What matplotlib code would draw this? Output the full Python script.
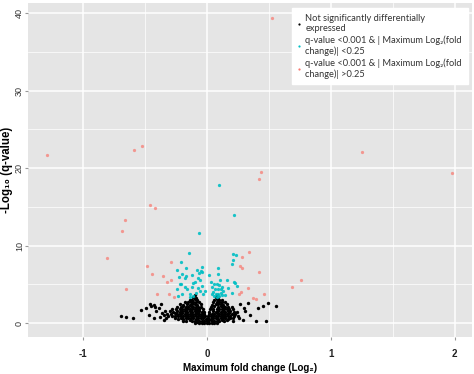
import numpy as np
import matplotlib
matplotlib.use("Agg")
import matplotlib.pyplot as plt
from matplotlib.lines import Line2D

# ---- data (x = log2 max fold change, y = -log10 q) ----
# not significant: scattered points + dense blob near zero
black_pts = [
    (-0.695, 0.95), (-0.65, 0.77), (-0.595, 0.70), (-0.53, 1.65), (-0.49, 2.0),
    (-0.455, 2.15), (-0.42, 2.05), (-0.465, 1.1), (-0.425, 0.6), (-0.365, 1.3),
    (-0.347, 1.0), (-0.46, 2.4), (-0.43, 2.3), (-0.39, 1.9), (-0.37, 2.5),
    (-0.41, 1.5), (-0.35, 0.4), (-0.38, 0.8), (-0.34, 1.6), (-0.33, 0.7),
    (0.30, 2.0), (0.35, 1.0), (0.40, 0.26), (0.48, 0.26), (0.41, 2.0),
    (0.45, 2.2), (0.49, 2.6), (0.56, 2.2), (0.24, 1.4), (0.21, 0.26),
    (0.27, 2.4), (0.31, 1.5), (0.26, 0.7), (0.33, 2.6), (0.29, 0.4),
    # blob, bottom up
    (-0.10, 0.05), (-0.08, 0.08), (-0.06, 0.03), (-0.04, 0.06), (-0.02, 0.02),
    (0.00, 0.04), (0.02, 0.02), (0.04, 0.07), (0.06, 0.03), (0.08, 0.06),
    (-0.19, 0.32), (-0.165, 0.28), (-0.14, 0.35), (-0.12, 0.30), (-0.10, 0.27),
    (-0.08, 0.33), (-0.06, 0.29), (-0.04, 0.31), (-0.02, 0.26), (0.00, 0.30),
    (0.02, 0.34), (0.04, 0.28), (0.06, 0.32), (0.08, 0.27), (0.10, 0.31),
    (0.12, 0.35), (0.14, 0.29), (0.16, 0.33),
    (-0.26, 0.62), (-0.235, 0.58), (-0.21, 0.64), (-0.19, 0.57), (-0.17, 0.61),
    (-0.15, 0.66), (-0.13, 0.59), (-0.11, 0.63), (-0.09, 0.57), (-0.07, 0.62),
    (-0.05, 0.60), (-0.03, 0.65), (-0.01, 0.58), (0.01, 0.61), (0.03, 0.57),
    (0.05, 0.64), (0.07, 0.60), (0.09, 0.58), (0.11, 0.63), (0.13, 0.59),
    (0.15, 0.62), (0.17, 0.57), (0.19, 0.65), (0.21, 0.60),
    (-0.31, 0.92), (-0.28, 0.88), (-0.255, 0.94), (-0.23, 0.87), (-0.21, 0.91),
    (-0.19, 0.95), (-0.17, 0.89), (-0.15, 0.93), (-0.13, 0.86), (-0.11, 0.92),
    (-0.09, 0.90), (-0.07, 0.95), (-0.05, 0.88), (-0.03, 0.91), (-0.015, 0.87),
    (0.01, 0.93), (0.03, 0.89), (0.05, 0.94), (0.07, 0.88), (0.09, 0.92),
    (0.11, 0.86), (0.13, 0.91), (0.15, 0.95), (0.17, 0.89), (0.19, 0.93),
    (0.22, 0.88), (0.25, 0.92),
    (-0.32, 1.22), (-0.29, 1.18), (-0.26, 1.24), (-0.24, 1.17), (-0.22, 1.21),
    (-0.20, 1.25), (-0.18, 1.19), (-0.16, 1.23), (-0.14, 1.16), (-0.12, 1.22),
    (-0.10, 1.20), (-0.08, 1.25), (-0.06, 1.18), (-0.04, 1.21), (-0.025, 1.15),
    (0.015, 1.17), (0.04, 1.23), (0.06, 1.19), (0.08, 1.24), (0.10, 1.18),
    (0.12, 1.22), (0.14, 1.16), (0.16, 1.21), (0.18, 1.25), (0.20, 1.19),
    (0.23, 1.22),
    (-0.30, 1.52), (-0.27, 1.48), (-0.245, 1.54), (-0.22, 1.47), (-0.20, 1.51),
    (-0.18, 1.55), (-0.16, 1.49), (-0.14, 1.53), (-0.12, 1.46), (-0.10, 1.52),
    (-0.08, 1.50), (-0.06, 1.55), (-0.04, 1.48), (-0.025, 1.45), (0.02, 1.47),
    (0.05, 1.53), (0.07, 1.49), (0.09, 1.54), (0.11, 1.48), (0.13, 1.52),
    (0.15, 1.46), (0.17, 1.51), (0.19, 1.55), (0.22, 1.49),
    (-0.28, 1.82), (-0.25, 1.78), (-0.22, 1.84), (-0.20, 1.77), (-0.18, 1.81),
    (-0.16, 1.85), (-0.14, 1.79), (-0.12, 1.83), (-0.10, 1.76), (-0.08, 1.82),
    (-0.06, 1.80), (-0.035, 1.75), (0.025, 1.77), (0.05, 1.83), (0.08, 1.79),
    (0.10, 1.84), (0.12, 1.78), (0.14, 1.82), (0.16, 1.76), (0.18, 1.81),
    (0.21, 1.85),
    (-0.24, 2.12), (-0.21, 2.08), (-0.19, 2.14), (-0.17, 2.07), (-0.15, 2.11),
    (-0.13, 2.15), (-0.11, 2.09), (-0.09, 2.13), (-0.07, 2.06), (-0.045, 2.10),
    (0.03, 2.08), (0.06, 2.14), (0.09, 2.10), (0.11, 2.15), (0.13, 2.07),
    (0.15, 2.12), (0.17, 2.09), (0.20, 2.13),
    (-0.22, 2.42), (-0.19, 2.38), (-0.16, 2.44), (-0.14, 2.37), (-0.12, 2.41),
    (-0.10, 2.45), (-0.08, 2.39), (-0.05, 2.43), (0.04, 2.38), (0.07, 2.44),
    (0.09, 2.40), (0.11, 2.45), (0.13, 2.37), (0.16, 2.42),
    (-0.18, 2.72), (-0.15, 2.68), (-0.13, 2.74), (-0.11, 2.67), (-0.09, 2.71),
    (-0.06, 2.75), (0.05, 2.69), (0.08, 2.73), (0.10, 2.68), (0.12, 2.74),
    (0.15, 2.70),
    (-0.14, 3.02), (-0.12, 2.98), (-0.10, 3.04), (-0.08, 2.97), (0.06, 3.01),
    (0.08, 3.05), (0.10, 2.99), (0.12, 3.03),
    (-0.11, 3.32), (-0.09, 3.28), (0.07, 3.31), (0.09, 3.35),
    (-0.10, 3.6), (0.08, 3.62),
]

# q < 0.001 and |log2 FC| < 0.25
cyan_pts = [
    (0.097, 17.8), (0.22, 13.9), (-0.062, 11.6), (-0.145, 9.0), (-0.207, 7.9),
    (-0.24, 6.9), (-0.17, 7.1), (-0.043, 7.2), (-0.083, 6.8), (-0.05, 6.7),
    (-0.065, 6.5), (-0.038, 6.6), (-0.197, 6.3), (-0.12, 6.15), (-0.228, 5.9),
    (-0.17, 6.05), (-0.075, 5.85), (-0.057, 5.6), (-0.10, 5.3), (-0.11, 5.15),
    (-0.21, 5.1), (-0.18, 4.65), (-0.245, 4.35), (-0.124, 4.65), (-0.043, 4.8),
    (-0.07, 4.55), (-0.057, 4.1), (-0.089, 3.9), (-0.11, 3.5), (-0.137, 3.35),
    (-0.16, 4.35), (-0.137, 3.7), (-0.218, 5.0), (-0.178, 5.85), (-0.016, 4.1),
    (-0.03, 3.7), (-0.20, 3.8), (-0.23, 3.5),
    (0.086, 7.1), (0.092, 6.3), (0.21, 8.9), (0.234, 8.75), (0.21, 8.2),
    (0.205, 7.6), (0.164, 5.6), (0.105, 5.5), (0.226, 5.2), (0.245, 4.8),
    (0.06, 5.1), (0.078, 5.0), (0.097, 4.9), (0.12, 4.7), (0.038, 4.6),
    (0.065, 4.35), (0.092, 4.35), (0.11, 4.4), (0.05, 4.0), (0.07, 3.8),
    (0.09, 3.7), (0.11, 3.9), (0.13, 4.1), (0.06, 3.5), (0.08, 3.4),
    (0.10, 3.55), (0.12, 3.6), (0.04, 3.8), (0.22, 5.3), (0.17, 4.5),
    (0.20, 3.9), (0.15, 3.6), (0.03, 5.3), (0.02, 6.2),
]

# q < 0.001 and |log2 FC| > 0.25
pink_pts = [
    (-1.29, 21.7), (-0.587, 22.3), (-0.52, 22.8), (-0.46, 15.2), (-0.42, 14.8),
    (-0.665, 13.25), (-0.684, 11.9), (-0.81, 8.4), (-0.65, 4.35), (-0.487, 7.3),
    (-0.44, 6.3), (-0.353, 6.06), (-0.323, 5.25), (-0.29, 5.5), (-0.40, 3.8),
    (-0.305, 3.7), (-0.267, 3.4), (-0.29, 7.9),
    (0.525, 39.3), (1.25, 22.1), (1.98, 19.35), (0.44, 19.5), (0.42, 18.6),
    (0.34, 9.2), (0.285, 8.5), (0.27, 7.35), (0.283, 7.1), (0.42, 6.6),
    (0.69, 4.7), (0.33, 4.5), (0.275, 4.0), (0.256, 3.7), (0.37, 3.2),
    (0.396, 3.05), (0.46, 3.8), (0.757, 5.6),
]

legend_labels = [
    "Not significantly differentially\nexpressed",
    "q-value <0.001 & | Maximum Log\u2082(fold\nchange)| <0.25",
    "q-value <0.001 & | Maximum Log\u2082(fold\nchange)| >0.25",
]
x_ticks = [-1, 0, 1, 2]
y_ticks = [0, 10, 20, 30, 40]

col_black = "#000000"
col_cyan = "#00BFC4"
col_pink = "#F8766D"
bg = "#E5E5E5"

fig = plt.figure(figsize=(4.74, 3.74), dpi=100)
ax = fig.add_axes([28 / 474, 37 / 374, 444 / 474, 334 / 374])
ax.set_facecolor(bg)

ax.set_xlim(-1.444, 2.14)
ax.set_ylim(-1.8, 41.3)
ax.set_xticks(x_ticks)
ax.set_xticks([-0.5, 0.5, 1.5], minor=True)
ax.set_yticks(y_ticks)
ax.set_yticks([5, 15, 25, 35], minor=True)
ax.grid(which="major", color="white", lw=1.1)
ax.grid(which="minor", color="white", lw=0.5)
ax.set_axisbelow(True)
for s in ax.spines.values():
    s.set_visible(False)

bp = np.array(black_pts)
cp = np.array(cyan_pts)
pp = np.array(pink_pts)
ax.scatter(bp[:, 0], bp[:, 1], s=6, c=col_black, lw=0)
ax.scatter(cp[:, 0], cp[:, 1], s=5.5, c=col_cyan, lw=0, alpha=0.9)
ax.scatter(pp[:, 0], pp[:, 1], s=5.5, c=col_pink, lw=0, alpha=0.7)

fam = ["Liberation Sans", "DejaVu Sans"]
ax.tick_params(which="both", length=0)
ax.tick_params(which="major", axis="x", length=2.5, color="#999999", pad=6)
ax.tick_params(which="major", axis="y", length=2, color="#999999", pad=1)
ax.set_xticklabels([str(t) for t in x_ticks], fontsize=7, fontweight="bold",
                   family=fam, color="#222222")
ax.set_yticklabels([str(t) for t in y_ticks], fontsize=6.5, family=fam,
                   color="#333333", rotation=90, va="center")
ax.set_xlabel("Maximum fold change (Log\u2082)", fontsize=7, fontweight="bold",
              family=fam, labelpad=3)
ax.set_ylabel("-Log\u2081\u2080 (q-value)", fontsize=8.3, fontweight="bold",
              family=fam, labelpad=1)

handles = [Line2D([], [], ls="", marker="o", ms=1.6, mec="none", mfc=c)
           for c in (col_black, col_cyan, col_pink)]
leg = ax.legend(handles, legend_labels, loc="upper right",
                bbox_to_anchor=(0.99, 0.985), frameon=True, fancybox=False,
                facecolor="white", edgecolor="white", framealpha=1,
                prop={"family": ["Lato", "DejaVu Sans"], "size": 6.7},
                handlelength=0.5, handletextpad=0.4, labelspacing=0.25,
                borderpad=0.6, borderaxespad=0)
for t in leg.get_texts():
    t.set_color("#333333")

fig.savefig("out.png", dpi=100)
